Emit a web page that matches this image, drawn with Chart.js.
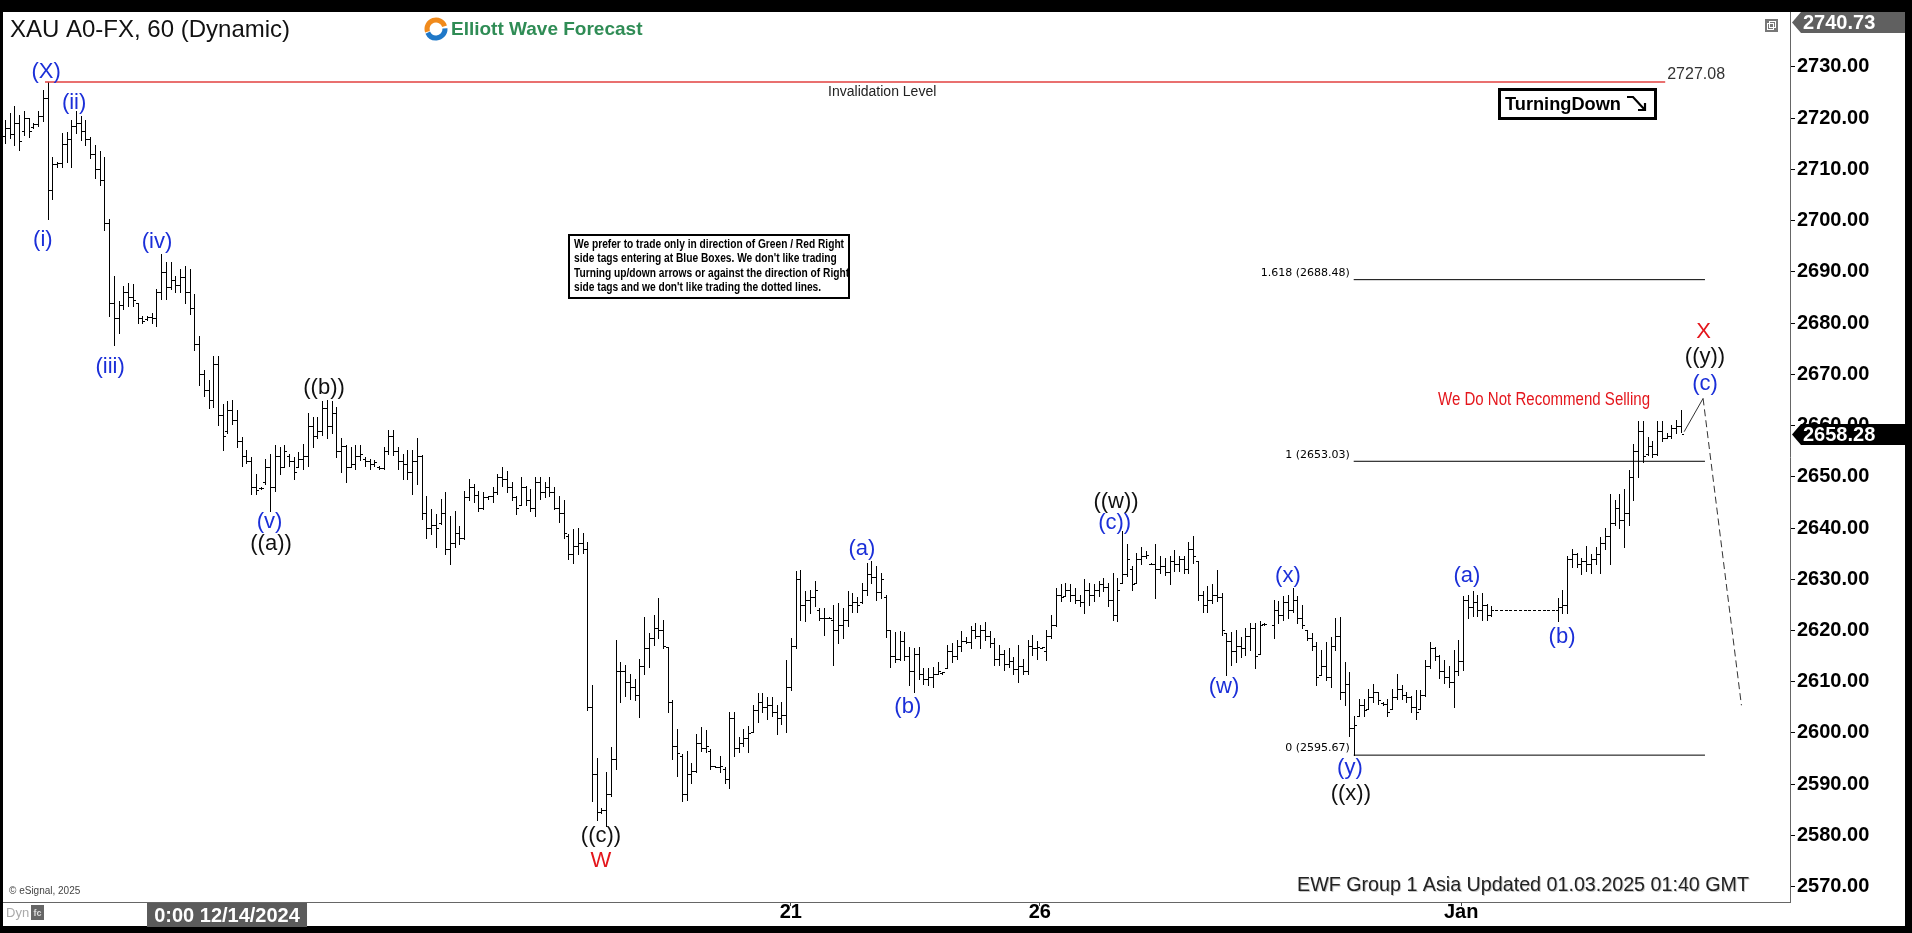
<!DOCTYPE html>
<html>
<head>
<meta charset="utf-8">
<title>XAU A0-FX, 60</title>
<script src="https://cdn.jsdelivr.net/npm/chart.js@4.4.1/dist/chart.umd.min.js"></script>
<style>
  html, body { margin: 0; padding: 0; background: #000; overflow: hidden; }
  canvas { display: block; }
</style>
</head>
<body>
<canvas id="chart" width="1912" height="933"></canvas>
<script>
// ── Hourly XAU bars (index 0 = first visible bar)
const opens = [
  // Dec 12-13
  2716.5, 2718.0, 2717.0, 2719.0, 2717.5, 2720.0, 2718.3, 2718.8, 2720.5, 2724.0,
  2706.0, 2711.0, 2711.2, 2715.0, 2716.0, 2718.5, 2719.0, 2717.5, 2716.0, 2713.0,
  2710.0, 2708.0, 2699.5, 2684.0, 2681.0, 2683.5, 2686.0, 2685.0, 2684.0, 2681.0,
  2680.8, 2681.2, 2681.0, 2686.0, 2690.0, 2687.0, 2688.5, 2687.5, 2689.0, 2686.0,
  2683.0, 2676.0, 2670.0, 2667.0, 2665.0, 2672.0, 2662.0, 2659.0, 2663.0, 2661.0,
  2657.0, 2654.0, 2653.0, 2648.0, 2647.8, 2649.0, 2652.0, 2648.0, 2654.0, 2652.0,
  2654.0,
  // Dec 16-18
  2653.0, 2652.0, 2653.5, 2654.0, 2660.0, 2658.0, 2659.0, 2663.5, 2660.0, 2662.5,
  2655.0, 2656.0, 2652.0, 2652.5, 2654.0, 2653.5, 2653.0, 2652.5, 2652.0, 2651.8,
  2655.0, 2658.0, 2655.0, 2653.0, 2652.5, 2651.0, 2653.0, 2654.0, 2643.0, 2640.0,
  2640.5, 2641.0, 2643.0, 2636.0, 2637.0, 2639.0, 2638.0, 2646.0, 2648.0, 2646.5,
  2644.0, 2646.0, 2646.2, 2647.0, 2650.0, 2649.5, 2648.0, 2646.0, 2644.5, 2648.0,
  2645.5, 2644.0, 2649.0, 2647.0, 2648.0, 2647.0, 2644.0, 2643.0, 2638.5, 2635.0,
  2636.5,
  // Dec 18-23
  2637.0, 2636.0, 2605.0, 2592.0, 2584.5, 2585.0, 2588.0, 2595.0, 2612.0, 2612.0,
  2610.0, 2609.0, 2607.5, 2613.0, 2616.5, 2618.5, 2620.5, 2620.0, 2616.8, 2606.0,
  2597.5, 2595.5, 2588.0, 2592.0, 2592.5, 2598.0, 2597.0, 2596.5, 2593.5, 2593.4,
  2593.0, 2591.0, 2603.0, 2597.0, 2598.0, 2599.0, 2600.1, 2604.5, 2606.0, 2605.0,
  2605.5, 2604.0, 2603.0, 2603.5, 2609.0, 2617.0, 2630.0, 2625.0, 2626.0, 2626.5,
  2624.0, 2622.5, 2622.5, 2622.0, 2620.0, 2621.0, 2622.0, 2625.0, 2625.5, 2625.5,
  // Dec 23-27
  2628.0, 2631.0, 2630.5, 2627.5, 2626.5, 2620.0, 2615.0, 2614.5, 2618.0, 2615.0,
  2612.0, 2615.5, 2611.5, 2610.5, 2611.0, 2611.6, 2611.7, 2612.6, 2616.0, 2615.0,
  2617.0, 2618.0, 2617.8, 2620.0, 2619.0, 2620.0, 2619.0, 2617.5, 2614.5, 2615.5,
  2613.5, 2614.0, 2612.5, 2613.0, 2612.0, 2617.0, 2616.5, 2616.6, 2616.0, 2619.0,
  2621.0, 2627.0, 2626.7, 2628.0, 2627.0, 2626.0, 2625.5, 2628.0, 2627.0, 2628.0,
  2629.0, 2628.5, 2626.0, 2623.0, 2629.3, 2631.0, 2632.0, 2629.3, 2634.0, 2634.5,
  // Dec 27-31
  2633.0, 2633.0, 2632.0, 2632.5, 2631.5, 2633.5, 2633.0, 2634.0, 2632.0, 2636.0,
  2633.5, 2627.0, 2625.0, 2626.0, 2627.0, 2626.5, 2619.5, 2618.0, 2616.0, 2617.0,
  2616.5, 2619.0, 2620.5, 2615.5, 2621.2, null,   2621.0, 2624.0, 2623.0, 2625.5,
  2624.0, 2626.0, 2622.5, 2620.0, 2618.5, 2617.0, 2611.3, 2613.0, 2611.0, 2617.0,
  2619.0, 2608.0, 2609.5, 2601.0, 2603.4, 2605.5, 2604.7, 2607.0, 2608.0, 2605.8,
  2605.6, 2604.7, 2607.0, 2608.5, 2607.5, 2607.0, 2605.0, 2604.7, 2607.5, 2613.0,
  2616.5,
  // Dec 31 - Jan 3
  2615.0, 2612.0, 2611.0, 2610.0, 2612.0, 2614.0, 2626.0, 2624.5, 2625.5, 2624.0,
  2625.0, 2623.0,
  2624.0, 2624.0, 2624.0, 2624.0, 2624.0, 2624.0, 2624.0, 2624.0, 2624.0, 2624.0,
  2624.0, 2624.0, 2624.0,
  2624.0, 2624.5, 2625.0, 2634.0, 2635.0, 2633.0, 2633.5, 2633.0, 2634.0, 2635.0,
  2637.0, 2638.5, 2641.0, 2644.0, 2641.5, 2643.0, 2650.0, 2655.0, 2659.0, 2654.5,
  2656.0, 2654.5, 2659.0, 2657.5, 2658.0, 2659.5, 2660.0
];
const highs = [
  2719.7, 2721.0, 2722.3, 2720.7, 2721.4, 2720.0, 2719.1, 2721.4, 2725.6, 2727.1,
  2712.5, 2711.5, 2717.1, 2717.4, 2719.7, 2721.4, 2720.4, 2719.7, 2716.4, 2714.8,
  2713.5, 2712.5, 2700.4, 2689.2, 2684.3, 2687.3, 2687.9, 2687.6, 2684.0, 2681.4,
  2681.4, 2682.0, 2686.6, 2693.5, 2691.9, 2691.9, 2689.2, 2690.6, 2691.2, 2690.6,
  2685.6, 2677.5, 2670.9, 2668.9, 2673.5, 2673.5, 2664.3, 2664.7, 2665.0, 2663.0,
  2657.8, 2655.2, 2653.9, 2650.6, 2648.0, 2653.5, 2654.5, 2656.2, 2655.8, 2656.2,
  2654.5,
  2653.9, 2654.9, 2656.5, 2662.4, 2661.7, 2661.7, 2664.7, 2665.0, 2664.7, 2663.7,
  2657.5, 2656.2, 2655.8, 2656.2, 2656.2, 2653.9, 2653.5, 2653.2, 2652.2, 2655.8,
  2659.1, 2659.1, 2655.8, 2654.5, 2655.2, 2655.2, 2657.5, 2654.2, 2646.3, 2643.7,
  2642.7, 2645.7, 2647.0, 2642.4, 2643.4, 2640.4, 2647.3, 2649.6, 2648.6, 2647.3,
  2647.0, 2646.3, 2648.0, 2650.6, 2651.9, 2651.2, 2649.0, 2646.3, 2649.9, 2648.3,
  2647.6, 2649.9, 2649.9, 2649.0, 2649.9, 2648.0, 2646.3, 2645.4, 2638.8, 2639.8,
  2640.1,
  2639.1, 2637.2, 2609.3, 2595.2, 2585.4, 2592.3, 2597.2, 2618.2, 2613.9, 2613.2,
  2611.6, 2610.6, 2614.5, 2622.7, 2619.5, 2623.1, 2626.3, 2622.1, 2616.8, 2606.4,
  2600.8, 2595.9, 2596.5, 2594.2, 2599.8, 2601.1, 2600.5, 2596.9, 2593.6, 2595.5,
  2593.3, 2604.1, 2604.1, 2599.2, 2600.8, 2601.4, 2605.4, 2607.7, 2607.7, 2607.0,
  2607.0, 2605.4, 2606.0, 2614.2, 2618.5, 2631.6, 2631.9, 2627.7, 2628.0, 2629.6,
  2624.4, 2624.4, 2622.7, 2625.0, 2625.4, 2624.4, 2627.7, 2627.3, 2626.5, 2629.3,
  2633.2, 2633.6, 2632.6, 2631.3, 2627.0, 2620.1, 2619.8, 2619.9, 2619.8, 2616.8,
  2616.5, 2616.8, 2612.6, 2612.6, 2612.9, 2613.9, 2611.9, 2617.2, 2617.5, 2618.2,
  2619.9, 2618.8, 2620.8, 2621.4, 2621.1, 2621.6, 2619.9, 2618.5, 2617.2, 2616.2,
  2616.5, 2614.9, 2617.2, 2614.5, 2618.2, 2619.1, 2618.0, 2616.8, 2620.1, 2623.1,
  2628.3, 2629.0, 2629.3, 2629.0, 2628.3, 2627.0, 2630.0, 2629.3, 2629.0, 2629.6,
  2630.3, 2629.3, 2631.3, 2630.3, 2639.5, 2636.8, 2632.6, 2635.2, 2636.2, 2635.5,
  2633.2, 2636.8, 2634.5, 2634.2, 2634.5, 2635.8, 2634.5, 2634.5, 2637.2, 2638.5,
  2633.5, 2627.7, 2628.6, 2629.0, 2631.9, 2627.3, 2619.5, 2619.8, 2620.1, 2618.8,
  2620.4, 2621.4, 2621.4, 2621.8, 2621.4, null,   2626.0, 2625.7, 2626.7, 2627.0,
  2628.3, 2626.7, 2625.0, 2620.1, 2619.5, 2617.8, 2616.2, 2617.8, 2618.8, 2622.4,
  2622.7, 2613.9, 2611.9, 2603.4, 2606.7, 2606.7, 2608.6, 2609.6, 2608.0, 2606.0,
  2606.7, 2608.6, 2611.6, 2609.3, 2608.0, 2607.3, 2608.3, 2608.3, 2614.2, 2617.8,
  2616.8,
  2615.2, 2614.3, 2613.0, 2616.2, 2618.2, 2626.7, 2627.0, 2627.7, 2627.0, 2627.4,
  2625.1, 2624.7,
  2624.0, 2624.0, 2624.0, 2624.0, 2624.0, 2624.0, 2624.0, 2624.0, 2624.0, 2624.0,
  2624.0, 2624.0, 2624.0,
  2626.4, 2628.0, 2634.6, 2635.9, 2635.2, 2634.2, 2636.5, 2634.9, 2636.2, 2638.2,
  2640.1, 2646.7, 2645.4, 2646.7, 2647.7, 2651.3, 2656.5, 2660.8, 2660.8, 2657.8,
  2656.9, 2660.8, 2660.8, 2658.5, 2660.1, 2661.1, 2663.1
];
const lows = [
  2715.1, 2716.1, 2714.8, 2713.8, 2716.8, 2716.4, 2718.1, 2718.4, 2719.4, 2700.4,
  2704.3, 2710.5, 2710.5, 2711.5, 2710.5, 2717.1, 2715.8, 2714.8, 2712.2, 2708.3,
  2707.0, 2698.1, 2681.4, 2675.8, 2678.1, 2682.7, 2683.3, 2683.3, 2680.1, 2680.1,
  2680.7, 2680.1, 2679.4, 2684.7, 2684.7, 2686.6, 2686.0, 2686.0, 2684.0, 2681.7,
  2674.8, 2668.0, 2665.7, 2663.4, 2663.7, 2660.1, 2655.2, 2658.5, 2660.4, 2655.8,
  2652.2, 2652.6, 2646.7, 2646.7, 2647.6, 2648.6, 2643.4, 2647.3, 2650.6, 2651.9,
  2652.2,
  2649.6, 2651.9, 2651.6, 2652.2, 2655.8, 2657.5, 2658.1, 2657.5, 2658.5, 2653.9,
  2650.9, 2649.0, 2651.9, 2651.6, 2653.2, 2652.2, 2651.6, 2652.2, 2651.6, 2651.6,
  2654.5, 2654.2, 2651.6, 2649.6, 2649.6, 2646.7, 2648.6, 2641.7, 2638.1, 2638.8,
  2636.2, 2640.8, 2634.9, 2632.9, 2636.2, 2636.8, 2637.8, 2645.4, 2645.0, 2643.4,
  2643.7, 2645.7, 2645.0, 2646.7, 2648.3, 2647.0, 2645.4, 2642.7, 2644.4, 2644.4,
  2643.4, 2642.4, 2645.7, 2646.0, 2646.3, 2643.7, 2641.1, 2638.1, 2633.9, 2633.2,
  2634.9,
  2635.2, 2604.4, 2586.7, 2583.1, 2584.4, 2581.8, 2587.7, 2592.9, 2606.0, 2607.3,
  2606.7, 2606.4, 2603.1, 2611.6, 2612.9, 2617.2, 2618.5, 2616.5, 2604.1, 2594.9,
  2591.6, 2586.7, 2587.0, 2590.3, 2592.3, 2596.5, 2596.2, 2592.9, 2593.3, 2592.3,
  2590.3, 2589.3, 2595.5, 2596.2, 2597.5, 2596.2, 2600.1, 2602.1, 2604.1, 2602.8,
  2603.4, 2599.8, 2601.8, 2600.1, 2608.3, 2616.5, 2622.1, 2621.8, 2623.4, 2624.7,
  2622.1, 2619.1, 2622.4, 2613.2, 2617.5, 2618.5, 2620.8, 2623.7, 2623.7, 2625.4,
  2627.0, 2629.3, 2626.0, 2626.3, 2618.8, 2612.9, 2613.9, 2614.2, 2614.2, 2609.3,
  2608.0, 2610.6, 2609.6, 2609.3, 2609.0, 2611.6, 2611.6, 2612.6, 2613.9, 2614.5,
  2615.9, 2617.5, 2616.5, 2618.5, 2616.5, 2618.2, 2616.8, 2613.2, 2613.2, 2612.3,
  2612.9, 2611.6, 2610.0, 2611.6, 2611.6, 2615.2, 2614.5, 2616.5, 2614.2, 2618.5,
  2620.8, 2625.7, 2626.7, 2625.7, 2625.4, 2624.7, 2623.4, 2625.0, 2625.7, 2626.7,
  2627.7, 2624.7, 2622.1, 2621.8, 2629.3, 2630.6, 2628.0, 2629.3, 2632.9, 2634.2,
  2632.9, 2626.3, 2631.3, 2630.9, 2629.0, 2631.6, 2631.6, 2631.3, 2631.3, 2633.2,
  2626.0, 2623.7, 2623.7, 2625.4, 2625.7, 2619.1, 2611.3, 2613.2, 2613.9, 2614.9,
  2615.2, 2616.2, 2612.6, 2615.5, 2621.1, null,   2618.5, 2621.4, 2622.1, 2622.4,
  2623.7, 2621.4, 2620.4, 2618.1, 2616.2, 2609.3, 2611.3, 2610.3, 2609.0, 2616.2,
  2606.7, 2605.4, 2599.5, 2595.67, 2603.4, 2603.4, 2604.7, 2606.0, 2605.7, 2605.4,
  2603.4, 2604.7, 2606.7, 2606.7, 2606.0, 2604.1, 2602.8, 2604.7, 2607.3, 2612.6,
  2614.2,
  2610.7, 2609.7, 2609.0, 2605.1, 2611.3, 2612.3, 2622.5, 2622.8, 2622.8, 2622.1,
  2622.1, 2622.8,
  2624.0, 2624.0, 2624.0, 2624.0, 2624.0, 2624.0, 2624.0, 2624.0, 2624.0, 2624.0,
  2624.0, 2624.0, 2624.0,
  2621.8, 2623.4, 2623.4, 2632.3, 2632.3, 2631.0, 2631.6, 2631.3, 2632.9, 2631.3,
  2635.9, 2632.9, 2640.5, 2640.1, 2636.2, 2640.5, 2645.4, 2650.0, 2652.9, 2654.2,
  2653.9, 2654.2, 2656.9, 2657.5, 2657.5, 2658.5, 2658.8
];
const closes = [
  2718.0, 2717.0, 2719.0, 2715.5, 2720.0, 2717.5, 2718.8, 2720.5, 2724.0, 2706.0,
  2711.0, 2711.2, 2715.0, 2716.0, 2718.5, 2719.0, 2717.5, 2716.0, 2713.0, 2710.0,
  2708.0, 2699.5, 2684.0, 2681.0, 2683.5, 2686.0, 2685.0, 2684.5, 2681.0, 2680.5,
  2681.2, 2681.0, 2686.0, 2690.0, 2687.0, 2688.5, 2687.5, 2689.0, 2686.0, 2683.0,
  2676.0, 2670.0, 2667.0, 2665.0, 2672.0, 2662.0, 2658.0, 2663.0, 2661.0, 2657.0,
  2654.0, 2653.0, 2648.0, 2647.5, 2647.8, 2652.0, 2648.0, 2654.0, 2652.0, 2655.0,
  2653.0,
  2651.0, 2653.5, 2654.0, 2660.0, 2658.0, 2659.0, 2663.5, 2660.0, 2662.5, 2655.0,
  2656.0, 2652.0, 2652.5, 2654.0, 2654.5, 2653.0, 2652.5, 2652.8, 2651.8, 2655.0,
  2658.0, 2655.0, 2653.0, 2652.5, 2651.0, 2653.0, 2654.0, 2643.0, 2640.0, 2640.5,
  2640.0, 2643.0, 2636.0, 2637.0, 2639.0, 2638.0, 2646.0, 2648.0, 2646.5, 2644.0,
  2646.0, 2646.2, 2647.0, 2650.0, 2649.5, 2648.0, 2646.0, 2644.0, 2648.0, 2645.5,
  2644.0, 2649.0, 2647.0, 2648.0, 2647.0, 2644.0, 2643.0, 2639.0, 2635.0, 2636.5,
  2637.0,
  2636.0, 2605.0, 2592.0, 2584.5, 2585.0, 2588.0, 2595.0, 2612.0, 2612.0, 2610.0,
  2609.0, 2607.5, 2613.0, 2616.5, 2618.5, 2620.5, 2620.0, 2617.0, 2606.0, 2597.5,
  2596.0, 2588.0, 2592.0, 2592.5, 2598.0, 2597.0, 2597.5, 2593.5, 2593.4, 2593.5,
  2591.0, 2603.0, 2597.0, 2598.0, 2599.0, 2600.0, 2604.5, 2606.0, 2605.0, 2605.5,
  2604.0, 2603.0, 2603.5, 2609.0, 2617.0, 2630.0, 2625.0, 2626.0, 2626.5, 2628.0,
  2622.5, 2622.5, 2622.5, 2620.0, 2621.0, 2622.0, 2625.0, 2625.5, 2625.0, 2628.0,
  2631.0, 2630.5, 2627.5, 2630.0, 2620.0, 2615.0, 2614.5, 2618.0, 2615.0, 2612.0,
  2615.5, 2611.5, 2610.5, 2611.0, 2611.5, 2612.0, 2611.8, 2616.0, 2615.0, 2617.0,
  2618.0, 2617.8, 2620.0, 2619.0, 2620.0, 2619.0, 2617.5, 2614.5, 2615.5, 2613.5,
  2614.0, 2612.5, 2613.0, 2612.0, 2617.0, 2616.5, 2616.8, 2616.7, 2619.0, 2621.0,
  2627.0, 2626.5, 2628.0, 2627.0, 2626.0, 2625.5, 2628.0, 2627.0, 2628.0, 2629.0,
  2628.5, 2626.0, 2623.0, 2628.0, 2631.0, 2634.0, 2629.0, 2634.0, 2634.5, 2634.8,
  2633.0, 2632.0, 2632.5, 2631.5, 2633.5, 2633.0, 2634.0, 2632.0, 2636.0, 2634.5,
  2627.0, 2625.0, 2626.0, 2627.0, 2626.5, 2620.0, 2618.0, 2616.0, 2617.0, 2616.5,
  2619.0, 2620.5, 2615.0, 2621.0, 2621.3, null,   2624.0, 2623.0, 2625.5, 2624.0,
  2626.0, 2622.5, 2621.0, 2618.5, 2617.0, 2611.0, 2613.0, 2611.0, 2617.0, 2619.0,
  2608.0, 2609.5, 2601.0, 2601.5, 2605.5, 2604.5, 2607.0, 2608.0, 2606.5, 2605.6,
  2604.0, 2607.0, 2608.5, 2607.5, 2607.0, 2605.0, 2604.0, 2607.5, 2613.0, 2616.5,
  2615.0,
  2612.0, 2611.0, 2610.0, 2612.0, 2614.0, 2626.0, 2624.5, 2625.5, 2624.0, 2625.0,
  2623.0, 2624.0,
  2624.0, 2624.0, 2624.0, 2624.0, 2624.0, 2624.0, 2624.0, 2624.0, 2624.0, 2624.0,
  2624.0, 2624.0, 2624.0,
  2624.5, 2625.0, 2634.0, 2635.0, 2633.0, 2633.5, 2633.0, 2634.0, 2635.0, 2637.0,
  2638.5, 2641.0, 2644.0, 2641.5, 2643.0, 2650.0, 2655.0, 2659.0, 2654.0, 2656.0,
  2654.5, 2659.0, 2657.5, 2658.0, 2659.5, 2660.0, 2658.28
];

// ── Axes
const priceTicks = [2570, 2580, 2590, 2600, 2610, 2620, 2630, 2640, 2650, 2660, 2670, 2680, 2690, 2700, 2710, 2720, 2730];
const priceMin = 2567.0;
const priceMax = 2740.73;
const dayTickIdx = [53.7, 166, 218.6, 307.6];
const dayTickLabels = ['16', '21', '26', 'Jan'];
const cursorIdx = 46.9;
const cursorLabel = '0:00 12/14/2024';

// ── Levels
const invalidationLevel = 2727.08;
const invalidationFrom = 8.45, invalidationTo = 350.7;
const fibNames = ['1.618 (2688.48)', '1 (2653.03)', '0 (2595.67)'];
const fibLevels = [2688.48, 2653.03, 2595.67];
const fibFrom = 284.9, fibTo = 359.1;

// ── Wave labels (degree 0 = ((x)), 1 = (x), 2 = W/X)
const waveText   = ['(X)', '(ii)', '(i)', '(iv)', '(iii)', '(v)', '((a))', '((b))', '((c))', 'W',
                    '(a)', '(b)', '((w))', '(c))', '(w)', '(x)', '(y)', '((x))', '(a)', '(b)', 'X', '((y))', '(c)'];
const waveIdx    = [8.7, 14.6, 8.0, 32.1, 22.2, 55.9, 56.2, 67.4, 125.9, 125.9,
                    181.0, 190.7, 234.7, 234.4, 257.5, 271.0, 284.1, 284.3, 308.8, 328.9, 358.8, 359.1, 359.1];
const waveVal    = [2729.0, 2722.9, 2696.2, 2695.8, 2671.4, 2641.1, 2636.8, 2667.4, 2579.8, 2575.0,
                    2635.9, 2605.0, 2645.0, 2640.9, 2609.0, 2630.7, 2593.1, 2588.1, 2630.7, 2618.8, 2678.2, 2673.3, 2668.2];
const waveDegree = [1, 1, 1, 1, 1, 1, 0, 0, 0, 2,
                    1, 1, 0, 1, 1, 1, 1, 0, 1, 1, 2, 0, 1];

// ── Last leg and projected path
const legIdx = [354.7, 358.7];
const legVal = [2658.8, 2665.3];
const projIdx = [358.7, 366.8];
const projVal = [2665.3, 2605.4];

// ── Styles
const FONT = '"Liberation Sans", Arial, Helvetica, sans-serif';
const NARROW = '"Liberation Sans Narrow", "Arial Narrow", "Liberation Sans", sans-serif';
const SMALL = '"DejaVu Sans", Verdana, sans-serif';
const BLUE = '#1b2fd8';
const RED  = '#e4161c';
const INK  = '#111111';
const degreeColor = [INK, BLUE, RED];

function pts(xs, ys) { return xs.map((x, i) => ({ x: x, y: ys[i] })); }

function text(ctx, s, x, y, font, color, align, base, maxW) {
  ctx.font = font;
  ctx.fillStyle = color;
  ctx.textAlign = align || 'left';
  ctx.textBaseline = base || 'middle';
  if (maxW) ctx.fillText(s, x, y, maxW); else ctx.fillText(s, x, y);
}

/* ════════════════════════════════════════════
   Frame: black surround and white panel
════════════════════════════════════════════ */
const framePlugin = {
  id: 'frame',
  beforeDraw(chart) {
    const ctx = chart.ctx;
    ctx.save();
    ctx.fillStyle = '#000';
    ctx.fillRect(0, 0, chart.width, chart.height);
    ctx.fillStyle = '#fff';
    ctx.beginPath();
    ctx.roundRect(3, 12, 1902, 914, [0, 8, 0, 0]);
    ctx.fill();
    ctx.restore();
  }
};

/* ════════════════════════════════════════════
   OHLC bars: vertical high-low, open tick left, close tick right
════════════════════════════════════════════ */
const ohlcPlugin = {
  id: 'ohlc',
  beforeDatasetsDraw(chart) {
    const { ctx, chartArea, scales: { x, y } } = chart;
    ctx.save();
    ctx.beginPath();
    ctx.rect(chartArea.left, chartArea.top, chartArea.width, chartArea.height);
    ctx.clip();
    ctx.strokeStyle = '#000';
    ctx.lineWidth = 1;
    ctx.beginPath();
    highs.forEach((h, i) => {
      if (h == null) return;
      const px = Math.round(x.getPixelForValue(i));
      const top = Math.round(y.getPixelForValue(h));
      const bot = Math.round(y.getPixelForValue(lows[i]));
      const yo = Math.round(y.getPixelForValue(opens[i])) + 0.5;
      const yc = Math.round(y.getPixelForValue(closes[i])) + 0.5;
      if (h === lows[i]) {
        // no range: a short dash
        ctx.moveTo(px - 1, yo); ctx.lineTo(px + 2, yo);
        return;
      }
      ctx.moveTo(px + 0.5, top); ctx.lineTo(px + 0.5, bot + 1);
      ctx.moveTo(px - 2, yo); ctx.lineTo(px, yo);
      ctx.moveTo(px + 1, yc); ctx.lineTo(px + 3, yc);
    });
    ctx.stroke();
    ctx.restore();
  }
};

/* ════════════════════════════════════════════
   Notes: wave labels, texts, boxes and tags
════════════════════════════════════════════ */
const notesPlugin = {
  id: 'notes',
  afterDraw(chart) {
    const { ctx, chartArea, scales: { x, y } } = chart;
    ctx.save();

    // wave labels
    waveText.forEach((t, i) => {
      text(ctx, t, x.getPixelForValue(waveIdx[i]), y.getPixelForValue(waveVal[i]),
        '22px ' + FONT, degreeColor[waveDegree[i]], 'center', 'middle');
    });

    // fib labels
    fibLevels.forEach((lv, i) => {
      text(ctx, fibNames[i], x.getPixelForValue(fibFrom) - 4, y.getPixelForValue(lv) - 1,
        '11px ' + SMALL, '#000', 'right', 'bottom');
    });

    // invalidation texts
    const yInv = y.getPixelForValue(invalidationLevel);
    text(ctx, 'Invalidation Level', x.getPixelForValue(185.3), yInv + 10, '14px ' + FONT, '#222', 'center', 'middle', 110);
    text(ctx, invalidationLevel.toFixed(2), x.getPixelForValue(invalidationTo) + 2, yInv - 7, '16px ' + FONT, '#333', 'left', 'middle');

    // Turning down box
    ctx.strokeStyle = '#000';
    ctx.lineWidth = 3;
    ctx.strokeRect(1499.5, 89.5, 156, 29);
    text(ctx, 'TurningDown', 1505, 104.5, 'bold 19px ' + FONT, '#000', 'left', 'middle', 116);
    ctx.lineWidth = 2.2;
    ctx.beginPath();
    ctx.moveTo(1627, 97); ctx.lineTo(1633, 97); ctx.lineTo(1645, 110);
    ctx.moveTo(1645, 103); ctx.lineTo(1645, 110); ctx.lineTo(1638, 110);
    ctx.stroke();

    // trading note box, text squeezed to the width of its first line
    ctx.lineWidth = 2;
    ctx.strokeRect(569, 235, 280, 63);
    const note = [
      'We prefer to trade only in direction of Green / Red Right',
      "side tags entering at Blue Boxes. We don't like trading",
      'Turning up/down arrows or against the direction of Right',
      "side tags and we don't like trading the dotted lines."
    ];
    ctx.font = 'bold 12px ' + FONT;
    const squeeze = Math.min(1, 270 / ctx.measureText(note[0]).width);
    note.forEach((line, i) => {
      ctx.save();
      ctx.translate(574, 244.5 + i * 14.5);
      ctx.scale(squeeze, 1);
      text(ctx, line, 0, 0, 'bold 12px ' + FONT, '#000', 'left', 'middle');
      ctx.restore();
    });

    // warning
    text(ctx, 'We Do Not Recommend Selling', 1544, 400, '18px ' + NARROW, RED, 'center', 'middle', 212);

    // title + logo
    text(ctx, 'XAU A0-FX, 60 (Dynamic)', 10, 30, '24px ' + FONT, '#111', 'left', 'middle', 284);
    ctx.lineWidth = 5;
    ctx.strokeStyle = '#f08a1c';
    ctx.beginPath(); ctx.arc(436, 29, 9, Math.PI * 0.9, Math.PI * 1.9); ctx.stroke();
    ctx.strokeStyle = '#1f78c8';
    ctx.beginPath(); ctx.arc(436, 29, 9, Math.PI * 1.9 + 0.25, Math.PI * 2.9 - 0.1); ctx.stroke();
    text(ctx, 'Elliott Wave Forecast', 451, 30, 'bold 19px ' + FONT, '#2f8c55', 'left', 'middle', 196);

    // restore icon
    ctx.fillStyle = '#777';
    ctx.fillRect(1765, 19, 13, 13);
    ctx.strokeStyle = '#fff';
    ctx.lineWidth = 1;
    ctx.strokeRect(1767.5, 23.5, 6, 6);
    ctx.strokeRect(1769.5, 21.5, 6, 6);

    // footer texts
    const footer = 'EWF Group 1 Asia Updated 01.03.2025 01:40 GMT';
    text(ctx, footer, 1298, 886, '21px ' + NARROW, '#c8c8c8', 'left', 'middle', 452);
    text(ctx, footer, 1297, 885, '21px ' + NARROW, '#222', 'left', 'middle', 452);
    text(ctx, '\u00A9 eSignal, 2025', 9, 891, '10px ' + FONT, '#444', 'left', 'middle');
    text(ctx, 'Dyn', 6, 913, '13px ' + NARROW, '#aaa', 'left', 'middle');
    ctx.fillStyle = '#666';
    ctx.fillRect(31, 905, 13, 15);
    text(ctx, 'fc', 37.5, 914, 'bold 9px ' + FONT, '#ddd', 'center', 'middle');

    // x cursor tag
    const cx = x.getPixelForValue(cursorIdx);
    ctx.fillStyle = '#5b5b5b';
    ctx.fillRect(cx - 80, chartArea.bottom + 1, 160, 24);
    text(ctx, cursorLabel, cx, chartArea.bottom + 14, 'bold 20px ' + FONT, '#fff', 'center', 'middle', 152);

    // price tags on the right axis
    const tag = (yMid, label, fill) => {
      const x0 = chartArea.right + 2;
      ctx.fillStyle = fill;
      ctx.beginPath();
      ctx.moveTo(x0, yMid);
      ctx.lineTo(x0 + 9, yMid - 10.5);
      ctx.lineTo(1905, yMid - 10.5);
      ctx.lineTo(1905, yMid + 10.5);
      ctx.lineTo(x0 + 9, yMid + 10.5);
      ctx.closePath();
      ctx.fill();
      text(ctx, label, x0 + 11, yMid + 1, 'bold 20px ' + FONT, '#fff', 'left', 'middle');
    };
    tag(y.getPixelForValue(priceMax) + 10.5, priceMax.toFixed(2), '#606060');
    const last = closes[closes.length - 1];
    tag(y.getPixelForValue(last), last.toFixed(2), '#000');

    ctx.restore();
  }
};

// ── Line datasets: invalidation, fib levels, last leg and projection
const datasets = [
  {
    label: 'Invalidation',
    data: pts([invalidationFrom, invalidationTo], [invalidationLevel, invalidationLevel]),
    borderColor: '#e2403f', borderWidth: 1.5,
  },
  ...fibLevels.map((lv, i) => ({
    label: fibNames[i],
    data: pts([fibFrom, fibTo], [lv, lv]),
    borderColor: '#000', borderWidth: 1,
  })),
  {
    label: 'Leg',
    data: pts(legIdx, legVal),
    borderColor: '#333', borderWidth: 1,
  },
  {
    label: 'Projection',
    data: pts(projIdx, projVal),
    borderColor: '#333', borderWidth: 1, borderDash: [7, 4],
  },
];

new Chart(document.getElementById('chart'), {
  type: 'line',
  data: { datasets: datasets },
  options: {
    responsive: false,
    devicePixelRatio: 1,
    animation: false,
    layout: { padding: { left: 3, top: 12, right: 7, bottom: 6 } },
    elements: { point: { radius: 0 }, line: { tension: 0 } },
    plugins: { legend: { display: false }, tooltip: { enabled: false } },
    scales: {
      x: {
        type: 'linear',
        position: 'bottom',
        min: -0.42,
        max: 377.06,
        grid: { drawOnChartArea: false, drawTicks: true, tickLength: 4, tickColor: '#444' },
        border: { display: true, color: '#666' },
        ticks: {
          autoSkip: false, maxRotation: 0, padding: -4,
          color: '#000',
          font: { family: FONT, size: 20, weight: 'bold', lineHeight: 1 },
          callback: (v, i) => dayTickLabels[i],
        },
        afterBuildTicks: s => { s.ticks = dayTickIdx.map(v => ({ value: v })); },
        afterFit: s => { s.height = 25; },
      },
      y: {
        type: 'linear',
        position: 'right',
        min: priceMin,
        max: priceMax,
        grid: { drawOnChartArea: false, drawTicks: true, tickLength: 5, tickColor: '#000' },
        border: { display: true, color: '#666' },
        ticks: {
          padding: 2,
          color: '#000',
          font: { family: FONT, size: 20, weight: 'bold', lineHeight: 1 },
          callback: v => v.toFixed(2),
        },
        afterBuildTicks: s => { s.ticks = priceTicks.map(v => ({ value: v })); },
        afterFit: s => { s.width = 115; },
      },
    },
  },
  plugins: [framePlugin, ohlcPlugin, notesPlugin],
});
</script>
</body>
</html>
